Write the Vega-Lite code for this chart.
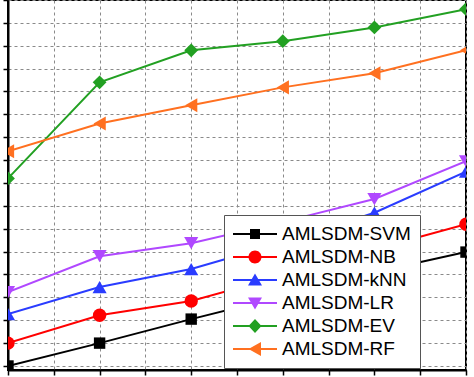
{
  "$schema": "https://vega.github.io/schema/vega-lite/v6.json",
  "width": 458,
  "height": 370,
  "autosize": {"type": "none"},
  "padding": {"left": 8, "top": 0, "right": 8, "bottom": 7},
  "background": "white",
  "config": {
    "view": {"stroke": "black", "strokeWidth": 2},
    "axis": {"labels": false, "title": null, "domainColor": "black", "domainWidth": 2, "tickColor": "black", "tickWidth": 1.5, "tickSize": 5, "gridColor": "#8a8a8a", "gridDash": [3, 3], "gridWidth": 1}
  },
  "data": {"values": [
    {"series": "AMLSDM-SVM", "x": 0, "y": 0.0},
    {"series": "AMLSDM-SVM", "x": 2, "y": 1.0},
    {"series": "AMLSDM-SVM", "x": 4, "y": 2.05},
    {"series": "AMLSDM-SVM", "x": 6, "y": 3.05},
    {"series": "AMLSDM-SVM", "x": 8, "y": 4.1},
    {"series": "AMLSDM-SVM", "x": 10, "y": 4.98},
    {"series": "AMLSDM-NB", "x": 0, "y": 1.0},
    {"series": "AMLSDM-NB", "x": 2, "y": 2.22},
    {"series": "AMLSDM-NB", "x": 4, "y": 2.84},
    {"series": "AMLSDM-NB", "x": 6, "y": 3.95},
    {"series": "AMLSDM-NB", "x": 8, "y": 5.1},
    {"series": "AMLSDM-NB", "x": 10, "y": 6.2},
    {"series": "AMLSDM-kNN", "x": 0, "y": 2.27},
    {"series": "AMLSDM-kNN", "x": 2, "y": 3.45},
    {"series": "AMLSDM-kNN", "x": 4, "y": 4.24},
    {"series": "AMLSDM-kNN", "x": 6, "y": 5.4},
    {"series": "AMLSDM-kNN", "x": 8, "y": 6.7},
    {"series": "AMLSDM-kNN", "x": 10, "y": 8.5},
    {"series": "AMLSDM-LR", "x": 0, "y": 3.23},
    {"series": "AMLSDM-LR", "x": 2, "y": 4.8},
    {"series": "AMLSDM-LR", "x": 4, "y": 5.37},
    {"series": "AMLSDM-LR", "x": 6, "y": 6.3},
    {"series": "AMLSDM-LR", "x": 8, "y": 7.3},
    {"series": "AMLSDM-LR", "x": 10, "y": 8.95},
    {"series": "AMLSDM-EV", "x": 0, "y": 8.2},
    {"series": "AMLSDM-EV", "x": 2, "y": 12.4},
    {"series": "AMLSDM-EV", "x": 4, "y": 13.8},
    {"series": "AMLSDM-EV", "x": 6, "y": 14.2},
    {"series": "AMLSDM-EV", "x": 8, "y": 14.8},
    {"series": "AMLSDM-EV", "x": 10, "y": 15.6},
    {"series": "AMLSDM-RF", "x": 0, "y": 9.39},
    {"series": "AMLSDM-RF", "x": 2, "y": 10.6},
    {"series": "AMLSDM-RF", "x": 4, "y": 11.4},
    {"series": "AMLSDM-RF", "x": 6, "y": 12.18},
    {"series": "AMLSDM-RF", "x": 8, "y": 12.8},
    {"series": "AMLSDM-RF", "x": 10, "y": 13.8}
  ]},
  "encoding": {
    "x": {"field": "x", "type": "quantitative", "scale": {"domain": [0, 10], "nice": false, "zero": false},
      "axis": {"values": [0,1,2,3,4,5,6,7,8,9,10], "orient": "bottom"}},
    "y": {"field": "y", "type": "quantitative", "scale": {"domain": [-0.175, 16], "nice": false, "zero": false},
      "axis": {"values": [0,1,2,3,4,5,6,7,8,9,10,11,12,13,14,15,16], "orient": "left"}},
    "color": {"field": "series", "type": "nominal",
      "scale": {"domain": ["AMLSDM-SVM","AMLSDM-NB","AMLSDM-kNN","AMLSDM-LR","AMLSDM-EV","AMLSDM-RF"],
        "range": ["#000000","#ff0000","#2a3cff","#b048ff","#22a022","#ff7020"]},
      "legend": {
        "orient": "none", "legendX": 216, "legendY": 215, "title": null,
        "labelFont": "Liberation Sans", "labelFontSize": 19, "labelColor": "black", "labelLimit": 0,
        "labelOffset": 29, "symbolSize": 400, "symbolStrokeWidth": 0, "symbolOpacity": 1,
        "padding": 9, "strokeColor": "#555555", "fillColor": "white", "rowPadding": 3,
        "encode": {"symbols": {"update": {
          "shape": {"signal": "['M-1,-0.1H3.4V0.1H-1ZM0.7,-0.5H1.7V0.5H0.7Z','M-1,-0.1H3.4V0.1H-1ZM0.55,0A0.65,0.65,0,1,1,1.85,0A0.65,0.65,0,1,1,0.55,0Z','M-1,-0.1H3.4V0.1H-1ZM1.2,-0.65L1.9,0.55L0.5,0.55Z','M-1,-0.1H3.4V0.1H-1ZM1.2,0.65L0.5,-0.55L1.9,-0.55Z','M-1,-0.1H3.4V0.1H-1ZM1.2,-0.7L1.85,0L1.2,0.7L0.55,0Z','M-1,-0.1H3.4V0.1H-1ZM0.55,0L1.8,-0.7L1.8,0.7Z'][indexof(['AMLSDM-SVM','AMLSDM-NB','AMLSDM-kNN','AMLSDM-LR','AMLSDM-EV','AMLSDM-RF'], datum.value)]"},
          "fill": {"scale": "color", "field": "value"},
          "strokeWidth": {"value": 0},
          "opacity": {"value": 1}
        }}}
      }}
  },
  "layer": [
    {"mark": {"type": "line", "strokeWidth": 2, "clip": true}},
    {"transform": [{"filter": "datum.series === 'AMLSDM-SVM'"}], "mark": {"type": "point", "shape": "square", "filled": true, "opacity": 1, "size": 130, "clip": true}},
    {"transform": [{"filter": "datum.series === 'AMLSDM-NB'"}], "mark": {"type": "point", "shape": "circle", "filled": true, "opacity": 1, "size": 180, "clip": true}},
    {"transform": [{"filter": "datum.series === 'AMLSDM-kNN'"}], "mark": {"type": "point", "shape": "triangle-up", "filled": true, "opacity": 1, "size": 200, "clip": true}},
    {"transform": [{"filter": "datum.series === 'AMLSDM-LR'"}], "mark": {"type": "point", "shape": "triangle-down", "filled": true, "opacity": 1, "size": 200, "clip": true}},
    {"transform": [{"filter": "datum.series === 'AMLSDM-EV'"}], "mark": {"type": "point", "shape": "diamond", "filled": true, "opacity": 1, "size": 190, "clip": true}},
    {"transform": [{"filter": "datum.series === 'AMLSDM-RF'"}], "mark": {"type": "point", "shape": "triangle-left", "filled": true, "opacity": 1, "size": 200, "clip": true}}
  ]
}
